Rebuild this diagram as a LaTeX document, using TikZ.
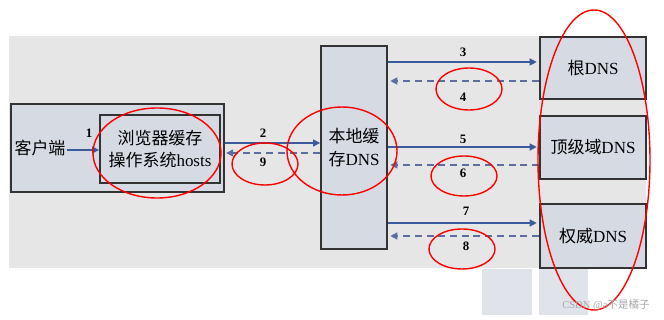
\documentclass[tikz,border=0pt]{standalone}
\usepackage{fontspec}
\setmainfont{Liberation Serif}
\newfontfamily\cjk{Noto Sans CJK SC}
\usetikzlibrary{arrows.meta}

\definecolor{bgGray}{HTML}{E6E6E6}
\definecolor{boxFill}{HTML}{D5DAE3}
\definecolor{tileFill}{HTML}{E0E4EA}
\definecolor{reqBlue}{HTML}{3A5A9C}
\definecolor{respBlue}{HTML}{5B6E9E}

\tikzset{
  panel/.style={draw=black!80, line width=1.6pt, fill=boxFill,
    align=center, inner sep=0pt, font=\fontsize{14.5}{19}\selectfont},
  req/.style={draw=reqBlue, line width=1pt, -{Triangle[length=6pt,width=6pt]}},
  resp/.style={req, draw=respBlue, dash pattern=on 6pt off 4pt},
  num/.style={font=\fontsize{11}{13}\selectfont\bfseries, inner sep=1pt},
  ring/.style={draw=red, line width=1.2pt}
}

\begin{document}
\begin{tikzpicture}[x=0.03cm, y=-0.03cm]
\useasboundingbox (0,0) rectangle (664,320);
% grey ground and the two tiles below it
\fill[bgGray] (9,36) rectangle (646,268);
\fill[tileFill] (482,269) rectangle (532,315);
\fill[tileFill] (539,269) rectangle (588,315);

% client side
\node[panel, minimum width=6.39cm, minimum height=2.64cm] (client) at (117.5,148) {};
\node[font=\fontsize{14.5}{17}\selectfont, inner sep=1pt] (khd) at (40,148) {\cjk 客户端};
\node[panel, minimum width=3.6cm, minimum height=2.04cm] (cache) at (160,149)
  {{\cjk 浏览器缓存}\\{\cjk 操作系统}hosts};

% local resolver
\node[panel, minimum width=1.98cm, minimum height=6.09cm] (local) at (354,147.5)
  {{\cjk 本地缓}\\{\cjk 存}DNS};

% servers
\node[panel, minimum width=3.18cm, minimum height=1.86cm] (root) at (593,68) {{\cjk 根}DNS};
\node[panel, minimum width=3.18cm, minimum height=1.89cm] (tld) at (593,147.5) {{\cjk 顶级域}DNS};
\node[panel, minimum width=3.18cm, minimum height=1.92cm] (auth) at (593,236) {{\cjk 权威}DNS};

% queries and answers
\draw[req] (khd.east |- 0,150) -- (cache.west |- 0,150);
\draw[req] (client.east |- 0,143) -- (local.west |- 0,143);
\draw[resp] (local.west |- 0,153) -- ([xshift=1pt]client.east |- 0,153);
\draw[req] (local.east |- 0,62) -- ([xshift=-2pt]root.west |- 0,62);
\draw[resp] (root.west |- 0,81) -- ([xshift=2pt]local.east |- 0,81);
\draw[req] (local.east |- 0,147) -- ([xshift=-2pt]tld.west |- 0,147);
\draw[resp] (tld.west |- 0,165) -- ([xshift=2pt]local.east |- 0,165);
\draw[req] (local.east |- 0,223) -- ([xshift=-2pt]auth.west |- 0,223);
\draw[resp] (auth.west |- 0,236) -- ([xshift=2pt]local.east |- 0,236);

\node[num] (n1) at (89,133) {1};
\node[num] (n2) at (263,133) {2};
\node[num] (n9) at (263,162) {9};
\node[num] (n3) at (463,52) {3};
\node[num] (n4) at (463,97) {4};
\node[num] (n5) at (463,139) {5};
\node[num] (n6) at (463,173) {6};
\node[num] (n7) at (466,211) {7};
\node[num] (n8) at (466,246) {8};

% red marks
\draw[ring] (157,153) ellipse [x radius=1.92cm, y radius=1.35cm];
\draw[ring] (265,164) ellipse [x radius=0.99cm, y radius=0.63cm];
\draw[ring] (342,151) ellipse [x radius=1.65cm, y radius=1.32cm];
\draw[ring] (469,89) ellipse [x radius=0.99cm, y radius=0.63cm];
\draw[ring] (464,176) ellipse [x radius=0.99cm, y radius=0.6cm];
\draw[ring] (462,249) ellipse [x radius=0.99cm, y radius=0.6cm];
\draw[ring] (594,160) ellipse [x radius=1.68cm, y radius=4.5cm];

\node[text=black!35, font=\fontsize{9}{11}\selectfont, inner sep=0pt] (mark) at (606,305) {CSDN @a{\cjk 不是橘子}};
\end{tikzpicture}
\end{document}
